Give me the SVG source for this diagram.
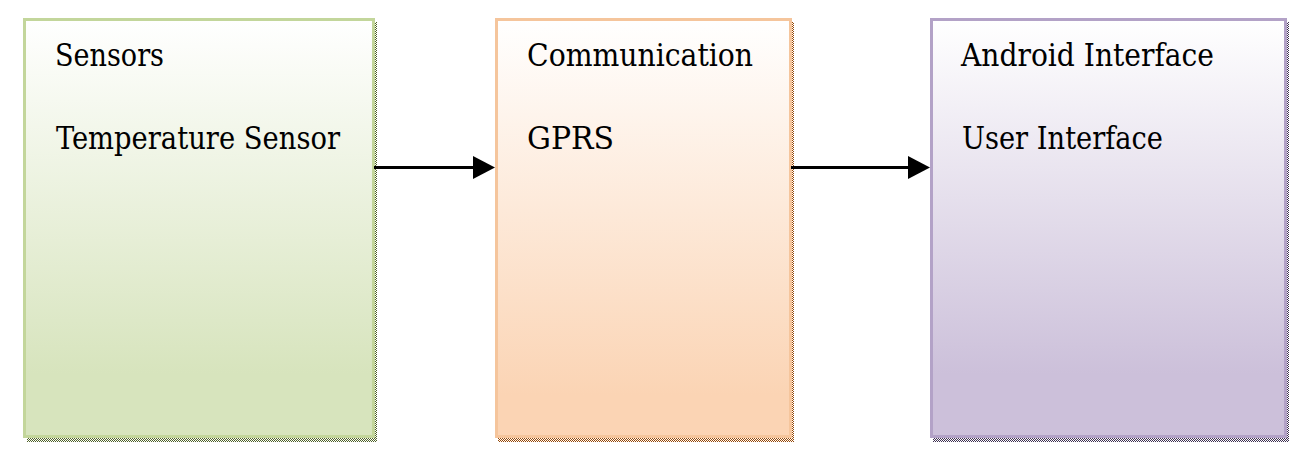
<svg xmlns="http://www.w3.org/2000/svg" width="1312" height="459" viewBox="0 0 1312 459">
<style>
.lbl{font-family:"DejaVu Serif Condensed","DejaVu Serif","Liberation Serif",serif;font-size:31px;fill:#000}
.conn{stroke:#000;stroke-width:3;fill:none}
</style>
<defs>
<linearGradient id="gG" x1="0" y1="0" x2="0" y2="1"><stop offset="0" stop-color="#ffffff"/><stop offset="0.85" stop-color="#d7e4bd"/></linearGradient>
<linearGradient id="gO" x1="0" y1="0" x2="0" y2="1"><stop offset="0" stop-color="#ffffff"/><stop offset="0.9" stop-color="#fbd4b4"/></linearGradient>
<linearGradient id="gP" x1="0" y1="0" x2="0" y2="1"><stop offset="0" stop-color="#ffffff"/><stop offset="0.85" stop-color="#ccc0da"/></linearGradient>
<pattern id="chG" width="2" height="2" patternUnits="userSpaceOnUse"><rect width="2" height="2" fill="#ffffff"/><rect width="1" height="1" fill="#4f6228"/><rect x="1" y="1" width="1" height="1" fill="#4f6228"/></pattern>
<pattern id="chO" width="2" height="2" patternUnits="userSpaceOnUse"><rect width="2" height="2" fill="#ffffff"/><rect width="1" height="1" fill="#974806"/><rect x="1" y="1" width="1" height="1" fill="#974806"/></pattern>
<pattern id="chP" width="2" height="2" patternUnits="userSpaceOnUse"><rect width="2" height="2" fill="#ffffff"/><rect width="1" height="1" fill="#3f3151"/><rect x="1" y="1" width="1" height="1" fill="#3f3151"/></pattern>
</defs>
<g id="sensors">
<rect x="27" y="22" width="350" height="420" fill="url(#chG)"/>
<rect x="24.5" y="19.5" width="349" height="417" fill="url(#gG)" stroke="#c3d69b" stroke-width="3"/>
<text class="lbl" x="55" y="66" textLength="109" lengthAdjust="spacingAndGlyphs">Sensors</text>
<text class="lbl" x="56" y="149" textLength="284" lengthAdjust="spacingAndGlyphs">Temperature Sensor</text>
</g>
<g id="communication">
<rect x="498" y="22" width="296" height="420" fill="url(#chO)"/>
<rect x="496.5" y="19.5" width="294" height="417" fill="url(#gO)" stroke="#f5c59c" stroke-width="3"/>
<text class="lbl" x="527" y="66" textLength="226" lengthAdjust="spacingAndGlyphs">Communication</text>
<text class="lbl" x="527" y="149" textLength="87" lengthAdjust="spacingAndGlyphs">GPRS</text>
</g>
<g id="android">
<rect x="933" y="22" width="356" height="420" fill="url(#chP)"/>
<rect x="931.5" y="19.5" width="354" height="417" fill="url(#gP)" stroke="#b3a2c7" stroke-width="3"/>
<text class="lbl" x="961" y="66" textLength="253" lengthAdjust="spacingAndGlyphs">Android Interface</text>
<text class="lbl" x="962" y="149" textLength="201" lengthAdjust="spacingAndGlyphs">User Interface</text>
</g>
<g id="connectors">
<path d="M374,167.5 L473,167.5" class="conn"/>
<path d="M473,156 L495,167.5 L473,179 Z" fill="#000"/>
<path d="M791,167.5 L908,167.5" class="conn"/>
<path d="M908,156 L930,167.5 L908,179 Z" fill="#000"/>
</g>
</svg>
